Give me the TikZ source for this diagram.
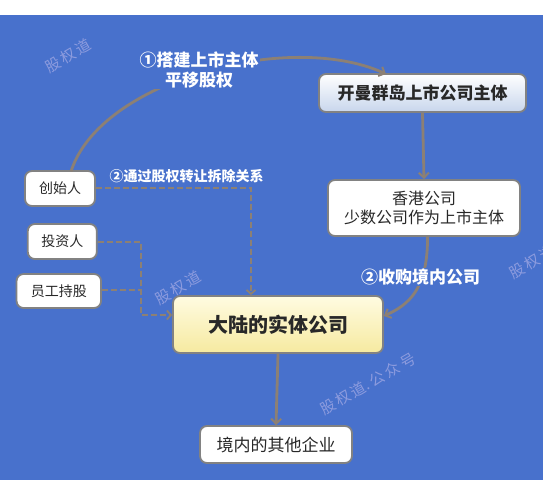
\documentclass[tikz,border=0pt]{standalone}
\usepackage{fontspec}
\setmainfont{Noto Sans CJK SC}
\usetikzlibrary{arrows.meta}
\definecolor{bgblue}{RGB}{72,113,204}
\definecolor{linec}{RGB}{140,128,116}
\definecolor{bordc}{RGB}{130,130,130}
\definecolor{txtc}{RGB}{40,40,40}
\definecolor{wmc}{RGB}{140,155,222}
\newcommand{\fs}[2]{\fontsize{#1pt}{#2pt}\selectfont}
\tikzset{
  box/.style={draw=bordc, line width=1.8pt, rounded corners=7pt, fill=white,
    inner sep=0pt, align=center, text=txtc},
  bluebox/.style={box, top color=white, bottom color={rgb,255:red,200;green,214;blue,236}},
  yellowbox/.style={box, top color={rgb,255:red,255;green,251;blue,225}, bottom color={rgb,255:red,246;green,234;blue,160}},
  conn/.style={draw=linec, line width=2.8pt, -{Straight Barb[length=5pt,width=10pt,line width=2pt]}},
  dconn/.style={draw=linec, line width=2pt, dash pattern=on 6pt off 3pt},
  dtip/.style={-{Straight Barb[length=4pt,width=9pt,line width=1.8pt]}},
  lbl/.style={text=white, align=center, inner sep=1pt},
  wm/.style={text=wmc, rotate=30, inner sep=0pt, font=\fs{15}{18}},
}
\begin{document}
\begin{tikzpicture}[x=1pt,y=-1pt]
\useasboundingbox (0,0) rectangle (543,480);
\fill[white] (0,0) rectangle (543,480);
\fill[bgblue] (0,15) rectangle (543,480);
% watermarks
\node[wm] (w1) at (68,56) {股\,权\,道};
\node[wm] (w2) at (178,288) {股\,权\,道};
\node[wm] (w3) at (532,262) {股\,权\,道};
\node[wm] (w4) at (368,384) {股\,权\,道.\,公\,众\,号};
% nodes
\node[bluebox, minimum width=207pt, minimum height=38pt, font=\fs{17}{20}\bfseries] (top) at (422.5,93) {开曼群岛上市公司主体};
\node[box, minimum width=192pt, minimum height=56pt, font=\fs{16}{19}] (hk) at (424,208) {香港公司\\少数公司作为上市主体};
\node[yellowbox, minimum width=210pt, minimum height=57pt, font=\fs{20}{24}\bfseries] (main) at (278,324.5) {大陆的实体公司};
\node[box, minimum width=152pt, minimum height=37pt, font=\fs{17}{20}] (other) at (276,444.5) {境内的其他企业};
\node[box, minimum width=70pt, minimum height=35pt, font=\fs{14}{17}] (founder) at (60,188.5) {创始人};
\node[box, minimum width=69pt, minimum height=35pt, font=\fs{14}{17}] (investor) at (62.3,241.5) {投资人};
\node[box, minimum width=84.5pt, minimum height=34pt, font=\fs{14}{17}] (employee) at (58.8,291) {员工持股};
% connectors
\draw[conn] (top.south) -- (hk.north);
\draw[conn] (main.south) -- (other.north);
\draw[conn] (71,171.5) .. controls (100,80) and (290,30) .. (386,74);
\draw[conn] (427.5,236.5) .. controls (428,290) and (408,305) .. (main.east |- 0,316);
% dashed
\coordinate (j1) at (251,188);
\coordinate (j2) at (141,315);
\draw[dconn, dtip] (founder.east |- j1) -| (main.north -| j1);
\draw[dconn, dtip] (investor.east |- 0,242) -| (j2) -- (main.west |- j2);
\draw[dconn] (employee.east |- 0,290) -- (j2 |- 0,290);
% labels
\node[lbl, fill=bgblue, font=\fs{17}{20}\bfseries] (l1) at (199,70) {①搭建上市主体\\平移股权};
\node[lbl, font=\fs{14}{17}\bfseries] (l2) at (186.5,176) {②通过股权转让拆除关系};
\node[lbl, fill=bgblue, font=\fs{17}{20}\bfseries] (l3) at (420.5,277) {②收购境内公司};
\end{tikzpicture}
\end{document}
